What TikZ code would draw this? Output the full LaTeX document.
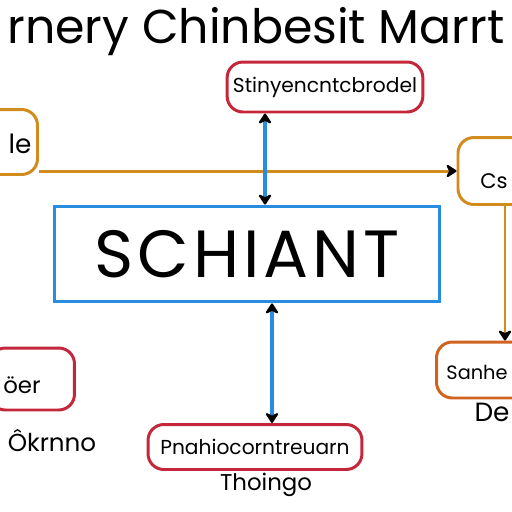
\documentclass[tikz,border=0pt]{standalone}
\usepackage{fontspec}
\setmainfont{Poppins}
\usetikzlibrary{arrows.meta}

\begin{document}
\begin{tikzpicture}[x=0.02cm,y=-0.02cm, >={Stealth[black, round, length=7pt, width=9pt]}]
  % Define colors
  \definecolor{boxred}{RGB}{196,38,58}     % red frames
  \definecolor{boxgold}{RGB}{210,140,30}   % golden frames and lines
  \definecolor{boxorange}{RGB}{208,100,30} % orange frame
  \definecolor{boxblue}{RGB}{40,140,225}   % main frame and arrows

  \tikzset{
    frame/.style={draw, line width=1.7pt, rounded corners=9pt, font=\fontsize{11.5}{14}\selectfont},
    goldline/.style={draw=boxgold, line width=1.7pt},
    blueline/.style={draw=boxblue, line width=2.2pt},
  }

  \useasboundingbox (0,0) rectangle (512,512);
  \clip (0,0) rectangle (512,512);

  % Title
  \node (title) at (256,32) {\fontsize{27}{30}\selectfont rnery Chinbesit Marrt};

  % Draw the frames
  \node[frame, draw=boxred, minimum width=3.8cm, minimum height=1cm] (topbox) at (325,87) {Stinyencntcbrodel};
  \node[frame, draw=boxgold, minimum width=1.1cm, minimum height=1.3cm] (leftbox) at (10,142) {};
  \node (lefttext) at (20,144) {\fontsize{15}{17}\selectfont le};
  \node[frame, draw=boxgold, minimum width=1.44cm, minimum height=1.34cm] (rightbox) at (494,171) {};
  \node (righttext) at (494,181) {\fontsize{12}{14}\selectfont Cs};
  \node[draw=boxblue, line width=2.2pt, minimum width=7.7cm, minimum height=1.9cm] (main) at (247,254) {\fontsize{38}{40}\selectfont\addfontfeature{LetterSpace=6}SCHIANT};

  \node[frame, draw=boxred, minimum width=1.7cm, minimum height=1.24cm] (lowleft) at (32,379) {};
  \node (lowlefttext) at (22,385) {\fontsize{13}{15}\selectfont öer};
  \node (lowleftcap) at (52,441) {\fontsize{14}{16}\selectfont Ôkrnno};

  \node[frame, draw=boxorange, minimum width=1.86cm, minimum height=1.12cm] (lowright) at (483,370) {};
  \node (lowrighttext) at (477,372) {\fontsize{11}{13}\selectfont Sanhe};
  \node (lowrightcap) at (492,412) {\fontsize{15}{17}\selectfont De};

  \node[frame, draw=boxred, minimum width=4.28cm, minimum height=0.9cm] (bottombox) at (255,447) {Pnahiocorntreuarn};
  \node (bottomcap) at (266,485) {\fontsize{13}{15}\selectfont Thoingo};

  % Connectors
  \draw[goldline, ->] (leftbox.east |- rightbox.west) -- (rightbox.west);
  \draw[goldline, ->] ([xshift=0.22cm]rightbox.south) -- ([xshift=0.22cm]rightbox.south |- lowright.north);
  \draw[blueline, <->] ([xshift=-1.2cm]topbox.south) -- ([xshift=-1.2cm]topbox.south |- main.north);
  \draw[blueline, <->] ([xshift=0.34cm]main.south -| bottombox.north) -- ([xshift=0.34cm]bottombox.north);
\end{tikzpicture}
\end{document}
